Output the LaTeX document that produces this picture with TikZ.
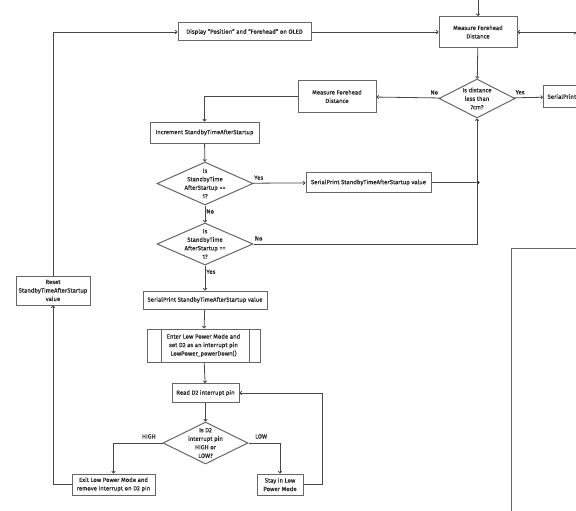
\documentclass[tikz,border=0pt]{standalone}
\usepackage{fontspec}
\setmainfont{Fira Sans}
\newfontfamily\boxfont{Fira Sans}[FakeBold=0.35]
\usetikzlibrary{shapes.geometric,arrows.meta}
\tikzstyle{block}=[
	draw=black!60,
	line width=1pt,
	fill=white,
	align=center,
	inner sep=1.5pt,
	text=black!85,
	font=\boxfont\fontsize{6}{8.5}\selectfont
]
\tikzstyle{decision}=[
	draw=black!60,
	line width=1pt,
	shape=diamond,
	inner sep=0pt
]
\tikzstyle{dtext}=[align=center, inner sep=0pt, text=black!85, font=\boxfont\fontsize{6}{8.5}\selectfont]
\tikzstyle{lbl}=[text=black!85, font=\boxfont\fontsize{6}{7}\selectfont, inner sep=1pt]
\tikzstyle{pstyle}=[draw=black!72, line width=0.8pt, -{To[length=2.5pt,width=4pt]}]
\tikzstyle{plain}=[draw=black!72, line width=0.8pt]

\begin{document}
\begin{tikzpicture}[x=1pt,y=-1pt]
	\useasboundingbox (0,0) rectangle (576,511);

	% top row
	\node[block, minimum width=78pt, minimum height=31pt] (M1) at (478,32) {Measure Forehead\\Distance};
	\node[block, minimum width=133pt, minimum height=18pt] (DISP) at (244.5,32) {Display “Position” and “Forehead” on OLED};
	\coordinate (TOP) at (478,0);
	\coordinate (RIN) at (576,32);

	% distance check
	\node[decision, minimum width=76pt, minimum height=39pt] (D1) at (477,98.5) {};
	\node[dtext] (D1t) at (D1) {Is distance\\less than\\7cm?};
	\node[block, anchor=west, minimum width=80pt, minimum height=21pt, text width=72pt, align=left] (SP1) at (543,96.5) {SerialPrint};
	\node[block, minimum width=78pt, minimum height=31pt] (M2) at (337,96.5) {Measure Forehead\\Distance};

	% standby counter
	\node[block, minimum width=109pt, minimum height=21pt] (INC) at (204.5,132.5) {Increment StandbyTimeAfterStartup};
	\node[decision, minimum width=96pt, minimum height=43pt] (D2) at (205,183.5) {};
	\node[dtext] (D2t) at (D2) {Is\\StandbyTime\\AfterStartup ==\\1?};
	\node[block, minimum width=125pt, minimum height=20pt] (SP2) at (368.5,182.5) {SerialPrint StandbyTimeAfterStartup value};
	\node[circle, fill=black, inner sep=1.2pt] (J) at (478,182.5) {};
	\node[decision, minimum width=96pt, minimum height=42pt] (D3) at (205,244) {};
	\node[dtext] (D3t) at (D3) {Is\\StandbyTime\\AfterStartup ==\\1?};
	\node[block, minimum width=124pt, minimum height=18pt] (SP3) at (205,300) {SerialPrint StandbyTimeAfterStartup value};

	% low power
	\node[block, minimum width=113pt, minimum height=33pt] (LPM) at (203.5,345.5) {Enter Low Power Mode and\\set D2 as an interrupt pin\\LowPower\_powerDown()};
	\draw[draw=black!60, line width=1pt] ([xshift=15pt]LPM.north west) -- ([xshift=15pt]LPM.south west)
		([xshift=-11pt]LPM.north east) -- ([xshift=-11pt]LPM.south east);
	\node[block, minimum width=67pt, minimum height=19pt] (READ) at (205.5,393) {Read D2 interrupt pin};
	\node[decision, minimum width=85pt, minimum height=42pt] (D4) at (205.5,443) {};
	\node[dtext] (D4t) at (D4) {Is D2\\interrupt pin\\HIGH or\\LOW?};
	\node[block, minimum width=83pt, minimum height=21pt] (EXIT) at (113.5,484.5) {Exit Low Power Mode and\\remove interrupt on D2 pin};
	\node[block, minimum width=46pt, minimum height=21pt] (STAY) at (280,484.5) {Stay in Low\\Power Mode};
	\node[block, minimum width=74pt, minimum height=29pt, inner sep=0pt] (RESET) at (53,290.5) {Reset\\StandbyTimeAfterStartup\\value};

	% box on the right, cut by the page
	\node[draw=black!60, line width=1pt, anchor=north west, minimum width=120pt, minimum height=300pt] (BIG) at (511,248) {};

	% connectors
	\path[pstyle]
	(TOP) edge (M1)
	(RIN) edge (M1)
	(DISP) edge (M1)
	(M1) edge (D1)
	(D1) edge node[lbl, above right, yshift=2pt, pos=0] {Yes} (SP1)
	(D1) edge node[lbl, above left, yshift=2pt, pos=0] {No} (M2)
	(INC) edge (D2)
	(D2) edge node[lbl, above right, yshift=2pt, pos=0] {Yes} (SP2)
	(D2) edge node[lbl, right, pos=0.35] {No} (D3)
	(D3) edge node[lbl, right, pos=0.25] {Yes} (SP3)
	(SP3) edge (LPM)
	(LPM) edge (READ)
	(READ) edge (D4);

	\draw[plain] (SP2) -- (J);
	\draw[pstyle] (M2.west) -| (INC.north);
	\draw[pstyle] (D3.east) node[lbl, above right, yshift=2pt] {No} -| (D1.south);
	\draw[pstyle] (D4.west) -| node[lbl, above, yshift=3pt, pos=0.14] {HIGH} (EXIT.north);
	\draw[pstyle] (D4.east) -| node[lbl, above, yshift=3pt, pos=0.2] {LOW} (STAY.north);
	\draw[pstyle] (STAY.east) -- ++(19,0) |- (READ.east);
	\draw[pstyle] (EXIT.west) -| (RESET.south);
	\draw[pstyle] (RESET.north) |- (DISP.west);

\end{tikzpicture}
\end{document}
